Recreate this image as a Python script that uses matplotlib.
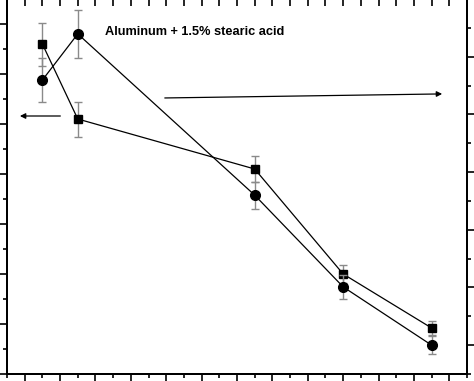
import matplotlib
matplotlib.use("Agg")
import matplotlib.pyplot as plt

# x positions (arbitrary units, no labels in the original)
x = [2, 4, 14, 19, 24]

# squares -> left axis
sq_y = [13.2, 10.2, 8.2, 4.0, 1.84]
sq_err = [0.86, 0.7, 0.52, 0.36, 0.28]

# circles -> right axis
ci_y = [10.19, 11.79, 6.2, 3.02, 1.0]
ci_err = [0.76, 0.83, 0.47, 0.42, 0.31]

label = "Aluminum + 1.5% stearic acid"

fig = plt.figure(figsize=(4.74, 3.81), dpi=100)
ax = fig.add_axes([7/474, 7/381, 460/474, 375/381])
ax2 = ax.twinx()
ax3 = ax.twiny()

gray = "#8a8a8a"
ax.errorbar(x, sq_y, yerr=sq_err, fmt="none", ecolor=gray, elinewidth=1.0,
            capsize=3, capthick=1.0, zorder=1)
ax.plot(x, sq_y, color="black", lw=0.9, marker="s", ms=5.8, mfc="black",
        mec="black", zorder=3)
ax2.errorbar(x, ci_y, yerr=ci_err, fmt="none", ecolor=gray, elinewidth=1.0,
             capsize=3, capthick=1.0, zorder=1)
ax2.plot(x, ci_y, color="black", lw=0.9, marker="o", ms=7, mfc="black",
         mec="black", zorder=3)

ax.set_xlim(0, 26)
ax3.set_xlim(0, 26)
ax.set_ylim(0, 15)
ax2.set_ylim(0, 13)

ax.set_xticks(range(1, 27, 2))
ax.set_xticks(range(0, 27, 2), minor=True)
ax3.set_xticks(range(1, 27, 2))
ax3.set_xticks(range(0, 27, 2), minor=True)
ax.set_yticks(range(0, 16, 2))
ax.set_yticks(range(1, 16, 2), minor=True)
ax2.set_yticks(range(1, 14, 2))
ax2.set_yticks(range(0, 14, 2), minor=True)

for a in (ax, ax2, ax3):
    for s in a.spines.values():
        s.set_linewidth(1.4)
    a.spines["top"].set_visible(False)

ax.tick_params(which="both", direction="out", width=1.2, labelleft=False,
               labelbottom=False, top=False, right=False)
ax.tick_params(which="major", length=5)
ax.tick_params(which="minor", length=3)
ax2.tick_params(which="both", direction="out", width=1.2, labelright=False,
                left=False)
ax2.tick_params(which="major", length=5)
ax2.tick_params(which="minor", length=3)
ax3.tick_params(which="both", direction="in", width=1.2, length=5,
                labeltop=False, bottom=False)

ax.text(0.213, 0.912, label, transform=ax.transAxes, fontsize=9.2,
        fontweight="bold", family="Liberation Sans", va="center", ha="left")

arrow = dict(arrowstyle="-|>", color="black", lw=0.9, mutation_scale=8)
ax.annotate("", xy=(0.022, 0.688), xytext=(0.122, 0.688),
            xycoords="axes fraction", arrowprops=arrow)
ax.annotate("", xy=(0.952, 0.747), xytext=(0.337, 0.736),
            xycoords="axes fraction", arrowprops=arrow)

fig.savefig("out.png", dpi=100)
